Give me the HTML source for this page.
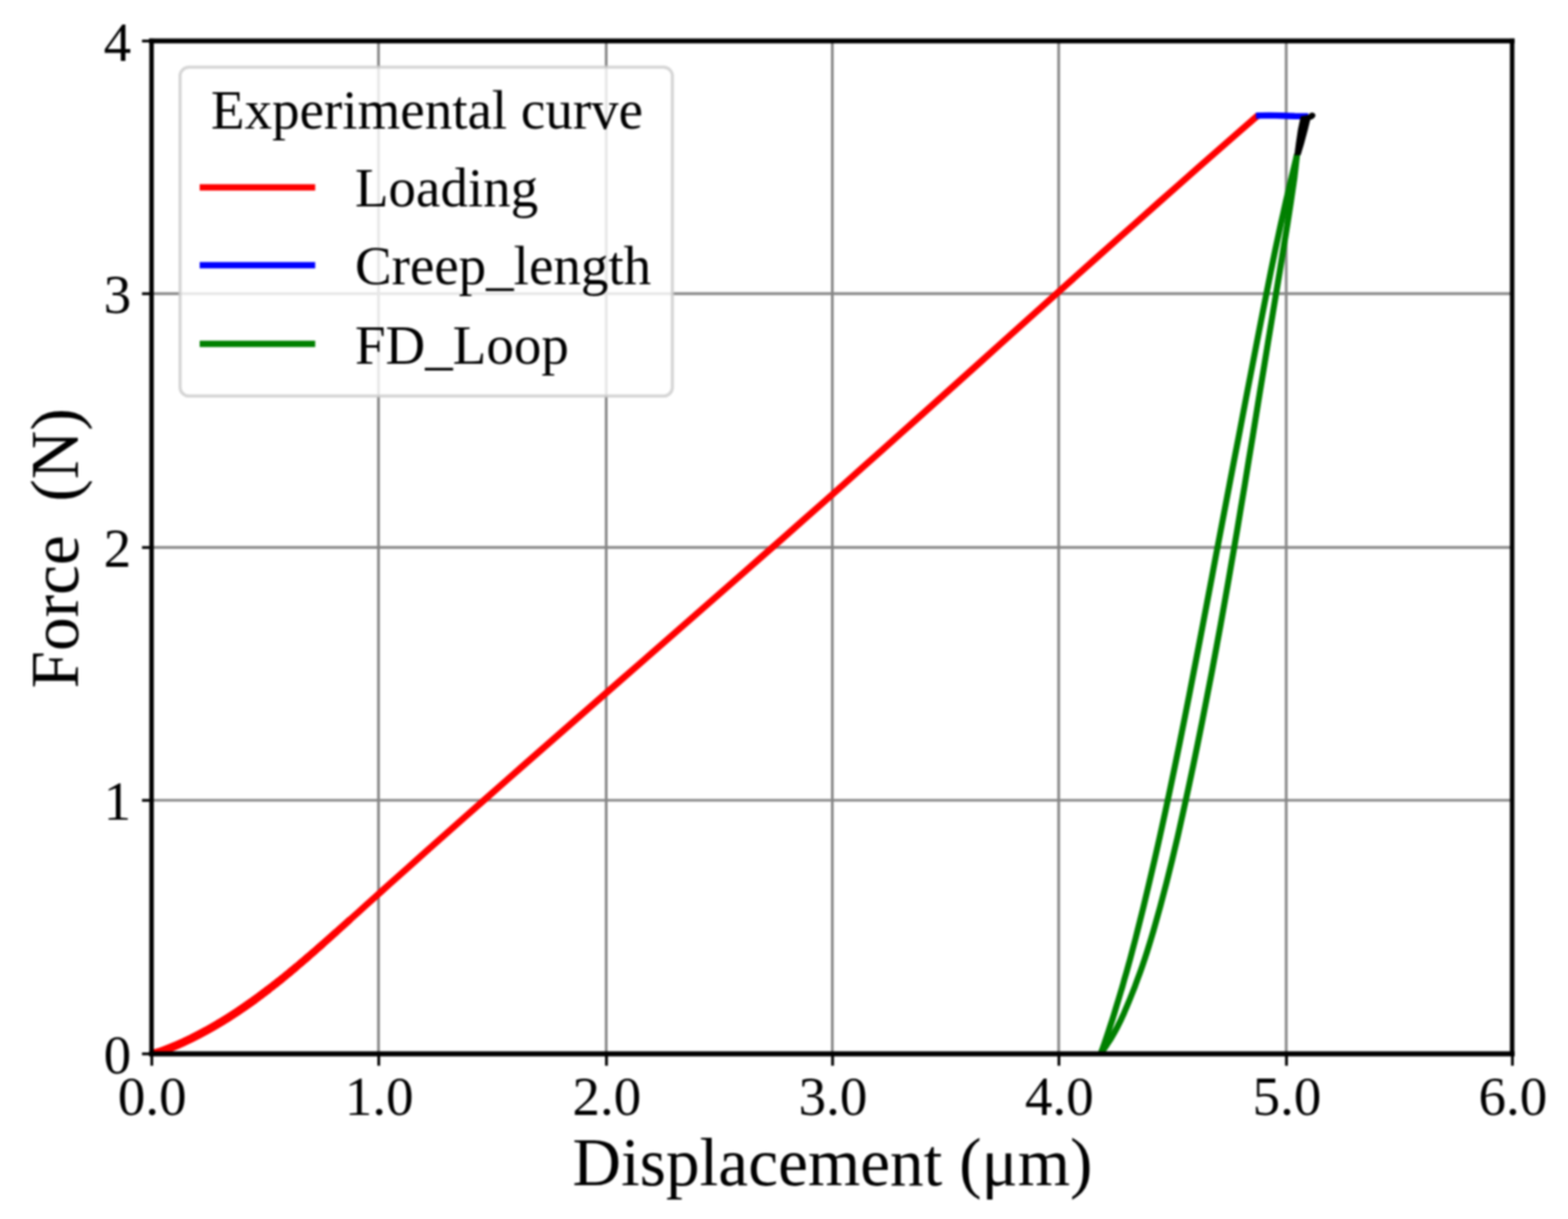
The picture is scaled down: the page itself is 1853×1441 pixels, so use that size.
<!DOCTYPE html>
<html lang="en"><head><meta charset="utf-8">
<title>Experimental curve: Force vs Displacement</title>
<style>
html,body{margin:0;padding:0;background:#fff;}
body{width:1853px;height:1441px;overflow:hidden;}
svg{display:block;}
text{font-family:"Liberation Serif",serif;fill:#000;}
.t{font-size:65px;}
.l{font-size:79.5px;}
</style></head><body>
<svg width="1853" height="1441" viewBox="0 0 1853 1441" role="img" aria-label="Force versus displacement experimental curve">
<defs><filter id="soft" x="0" y="0" width="1853" height="1441" filterUnits="userSpaceOnUse" color-interpolation-filters="sRGB"><feGaussianBlur stdDeviation="0.95"/></filter></defs>
<rect width="1853" height="1441" fill="#fff"/>
<g filter="url(#soft)">
<rect width="1853" height="1441" fill="#fff"/>
<g stroke="#868686" stroke-width="3.2" fill="none">
<line x1="447.3" y1="48.4" x2="447.3" y2="1245.7"/>
<line x1="716.4" y1="48.4" x2="716.4" y2="1245.7"/>
<line x1="983.6" y1="48.4" x2="983.6" y2="1245.7"/>
<line x1="1251.1" y1="48.4" x2="1251.1" y2="1245.7"/>
<line x1="1520.0" y1="48.4" x2="1520.0" y2="1245.7"/>
<line x1="179.1" y1="946.0" x2="1787.0" y2="946.0"/>
<line x1="179.1" y1="647.1" x2="1787.0" y2="647.1"/>
<line x1="179.1" y1="347.1" x2="1787.0" y2="347.1"/>
</g>
<clipPath id="ax"><rect x="179.1" y="48.4" width="1607.9" height="1197.3"/></clipPath>
<g clip-path="url(#ax)" fill="none" stroke-width="7.8" stroke-linejoin="round" stroke-linecap="butt">
<path stroke="#ff0000" d="M181.0,1245.6 L190.0,1243.1 L199.0,1239.6 L208.0,1235.9 L217.0,1231.9 L226.0,1227.6 L235.0,1223.0 L244.0,1218.2 L253.0,1213.1 L262.0,1207.8 L271.0,1202.2 L280.0,1196.3 L289.0,1190.2 L298.0,1183.9 L307.0,1177.3 L316.0,1170.5 L325.0,1163.5 L334.0,1156.4 L343.0,1149.0 L352.0,1141.4 L361.0,1133.8 L370.0,1126.0 L379.0,1118.1 L388.0,1110.1 L397.0,1102.1 L406.0,1094.0 L415.0,1085.9 L424.0,1077.8 L433.0,1069.7 L442.0,1061.6 L451.0,1053.5 L460.0,1045.4 L480.0,1027.6 L503.4,1006.7 L526.8,985.9 L550.2,965.2 L573.6,944.5 L597.0,923.9 L620.4,903.3 L643.8,882.8 L667.2,862.3 L690.6,841.8 L714.0,821.3 L737.4,800.8 L760.8,780.4 L784.2,759.9 L807.6,739.4 L831.0,718.9 L854.4,698.4 L877.8,677.9 L901.2,657.3 L924.6,636.7 L948.0,616.0 L971.4,595.3 L994.8,574.6 L1018.2,553.7 L1041.6,532.8 L1065.0,511.9 L1088.4,491.0 L1111.8,470.0 L1135.2,449.0 L1158.6,428.0 L1182.0,406.9 L1205.4,385.9 L1228.8,364.9 L1252.2,343.9 L1275.6,322.9 L1299.0,302.0 L1322.4,281.1 L1345.8,260.3 L1369.2,239.5 L1392.6,218.8 L1416.0,198.1 L1439.4,177.6 L1462.8,157.1 L1486.2,136.7"/>
<path stroke="#ff0000" stroke-width="7.99" d="M181.0,1245.6 L190.0,1243.1 L199.0,1239.6 L208.0,1235.9 L217.0,1231.9 L226.0,1227.6 L235.0,1223.0 L244.0,1218.2 L253.0,1213.1 L262.0,1207.8 L271.0,1202.2 L280.0,1196.3 L289.0,1190.2 L298.0,1183.9 L307.0,1177.3 L316.0,1170.5 L325.0,1163.5 L334.0,1156.4 L343.0,1149.0 L352.0,1141.4 L361.0,1133.8 L370.0,1126.0 L379.0,1118.1 L388.0,1110.1 L397.0,1102.1 L406.0,1094.0 L414.0,1086.8"/>
<path stroke="#ff0000" stroke-width="8.18" d="M181.0,1245.6 L190.0,1243.1 L199.0,1239.6 L208.0,1235.9 L217.0,1231.9 L226.0,1227.6 L235.0,1223.0 L244.0,1218.2 L253.0,1213.1 L262.0,1207.8 L271.0,1202.2 L280.0,1196.3 L289.0,1190.2 L298.0,1183.9 L307.0,1177.3 L316.0,1170.5 L325.0,1163.5 L334.0,1156.4 L343.0,1149.0 L352.0,1141.4 L361.0,1133.8 L370.0,1126.0 L379.0,1118.1 L388.0,1110.1 L397.0,1102.1 L398.0,1101.2"/>
<path stroke="#ff0000" stroke-width="8.37" d="M181.0,1245.6 L190.0,1243.1 L199.0,1239.6 L208.0,1235.9 L217.0,1231.9 L226.0,1227.6 L235.0,1223.0 L244.0,1218.2 L253.0,1213.1 L262.0,1207.8 L271.0,1202.2 L280.0,1196.3 L289.0,1190.2 L298.0,1183.9 L307.0,1177.3 L316.0,1170.5 L325.0,1163.5 L334.0,1156.4 L343.0,1149.0 L352.0,1141.4 L361.0,1133.8 L370.0,1126.0 L379.0,1118.1 L382.0,1115.4"/>
<path stroke="#ff0000" stroke-width="8.56" d="M181.0,1245.6 L190.0,1243.1 L199.0,1239.6 L208.0,1235.9 L217.0,1231.9 L226.0,1227.6 L235.0,1223.0 L244.0,1218.2 L253.0,1213.1 L262.0,1207.8 L271.0,1202.2 L280.0,1196.3 L289.0,1190.2 L298.0,1183.9 L307.0,1177.3 L316.0,1170.5 L325.0,1163.5 L334.0,1156.4 L343.0,1149.0 L352.0,1141.4 L361.0,1133.8 L366.0,1129.4"/>
<path stroke="#ff0000" stroke-width="8.75" d="M181.0,1245.6 L190.0,1243.1 L199.0,1239.6 L208.0,1235.9 L217.0,1231.9 L226.0,1227.6 L235.0,1223.0 L244.0,1218.2 L253.0,1213.1 L262.0,1207.8 L271.0,1202.2 L280.0,1196.3 L289.0,1190.2 L298.0,1183.9 L307.0,1177.3 L316.0,1170.5 L325.0,1163.5 L334.0,1156.4 L343.0,1149.0 L350.0,1143.1"/>
<path stroke="#ff0000" stroke-width="8.94" d="M181.0,1245.6 L190.0,1243.1 L199.0,1239.6 L208.0,1235.9 L217.0,1231.9 L226.0,1227.6 L235.0,1223.0 L244.0,1218.2 L253.0,1213.1 L262.0,1207.8 L271.0,1202.2 L280.0,1196.3 L289.0,1190.2 L298.0,1183.9 L307.0,1177.3 L316.0,1170.5 L325.0,1163.5 L334.0,1156.4 L334.0,1156.4"/>
<path stroke="#ff0000" stroke-width="9.13" d="M181.0,1245.6 L190.0,1243.1 L199.0,1239.6 L208.0,1235.9 L217.0,1231.9 L226.0,1227.6 L235.0,1223.0 L244.0,1218.2 L253.0,1213.1 L262.0,1207.8 L271.0,1202.2 L280.0,1196.3 L289.0,1190.2 L298.0,1183.9 L307.0,1177.3 L316.0,1170.5 L318.0,1169.0"/>
<path stroke="#ff0000" stroke-width="9.32" d="M181.0,1245.6 L190.0,1243.1 L199.0,1239.6 L208.0,1235.9 L217.0,1231.9 L226.0,1227.6 L235.0,1223.0 L244.0,1218.2 L253.0,1213.1 L262.0,1207.8 L271.0,1202.2 L280.0,1196.3 L289.0,1190.2 L298.0,1183.9 L302.0,1181.0"/>
<path stroke="#0000ff" stroke-width="7.4" d="M1484.2,136.7 L1500.0,136.4 L1515.0,136.8 L1530.0,137.3 L1546.0,137.4"/>
<path stroke="#008000" stroke-width="7.2" d="M1532.8,182.5 L1526.1,210.8 L1519.5,238.6 L1513.3,266.4 L1507.3,294.2 L1501.6,321.9 L1496.1,349.7 L1490.6,377.5 L1485.2,405.3 L1479.8,433.1 L1474.4,460.9 L1469.1,488.7 L1463.8,516.5 L1458.4,544.2 L1453.1,572.0 L1447.8,599.8 L1442.5,627.6 L1437.2,655.4 L1432.0,683.2 L1426.7,711.0 L1421.4,738.8 L1416.1,766.5 L1410.7,794.3 L1405.3,822.1 L1399.8,849.9 L1394.2,877.7 L1388.5,905.5 L1382.7,933.3 L1376.8,961.1 L1370.7,988.8 L1364.4,1016.6 L1357.9,1044.4 L1351.3,1072.2 L1344.3,1100.0 L1341.8,1110.0 L1339.7,1117.9 L1337.6,1125.9 L1335.5,1133.8 L1333.3,1141.8 L1331.1,1149.7 L1328.8,1157.6 L1326.6,1165.6 L1324.2,1173.5 L1321.8,1181.5 L1319.4,1189.4 L1317.0,1197.4 L1314.5,1205.3 L1311.9,1213.2 L1309.3,1221.2 L1306.6,1229.1 L1303.9,1237.1 L1301.0,1245.0"/>
<path stroke="#008000" stroke-width="7.2" d="M1532.8,182.5 L1529.6,210.8 L1525.5,238.6 L1521.2,266.4 L1516.7,294.2 L1512.2,321.9 L1507.6,349.7 L1503.0,377.5 L1498.4,405.3 L1493.9,433.1 L1489.3,460.9 L1484.8,488.7 L1480.3,516.5 L1475.7,544.2 L1471.2,572.0 L1466.5,599.8 L1461.9,627.6 L1457.1,655.4 L1452.3,683.2 L1447.4,711.0 L1442.4,738.8 L1437.3,766.5 L1432.1,794.3 L1426.7,822.1 L1421.3,849.9 L1415.7,877.7 L1410.0,905.5 L1404.1,933.3 L1398.0,961.1 L1391.8,988.8 L1385.2,1016.6 L1378.3,1044.4 L1371.0,1072.2 L1363.2,1100.0 L1360.2,1110.0 L1357.8,1117.9 L1355.3,1125.9 L1352.7,1133.8 L1350.0,1141.8 L1347.2,1149.7 L1344.3,1157.6 L1341.4,1165.6 L1338.3,1173.5 L1335.1,1181.5 L1331.8,1189.4 L1328.4,1197.4 L1324.8,1205.3 L1320.9,1213.2 L1316.6,1221.2 L1312.0,1229.1 L1306.7,1237.1 L1301.0,1245.0"/>
</g>
<path fill="#000" d="M1529.6,183.6 L1531.4,169.4 L1533.8,153.3 L1536.4,141 L1537,137.4 L1546,135.9 Q1548,133.3 1550.6,133.1 Q1554.8,133.8 1554.5,137 Q1553.6,140.3 1548.4,141.7 L1545.6,153.3 L1541.1,169.9 L1537,183.6 Z"/>
<g stroke="#000" fill="none" stroke-linecap="square">
<line x1="179.1" y1="48.4" x2="1787.0" y2="48.4" stroke-width="5.9"/>
<line x1="179.1" y1="1245.7" x2="1787.0" y2="1245.7" stroke-width="5.9"/>
<line x1="179.1" y1="48.4" x2="179.1" y2="1245.7" stroke-width="5.3"/>
<line x1="1787.0" y1="48.4" x2="1787.0" y2="1245.7" stroke-width="5.3"/>
</g>
<g stroke="#000" stroke-width="3.3">
<line x1="179.4" y1="1245.7" x2="179.4" y2="1259.8"/>
<line x1="447.6" y1="1245.7" x2="447.6" y2="1259.8"/>
<line x1="716.7" y1="1245.7" x2="716.7" y2="1259.8"/>
<line x1="983.9" y1="1245.7" x2="983.9" y2="1259.8"/>
<line x1="1251.4" y1="1245.7" x2="1251.4" y2="1259.8"/>
<line x1="1520.3" y1="1245.7" x2="1520.3" y2="1259.8"/>
<line x1="1787.3" y1="1245.7" x2="1787.3" y2="1259.8"/>
<line x1="167.8" y1="1245.8" x2="179.1" y2="1245.8"/>
<line x1="167.8" y1="946.1" x2="179.1" y2="946.1"/>
<line x1="167.8" y1="647.2" x2="179.1" y2="647.2"/>
<line x1="167.8" y1="347.2" x2="179.1" y2="347.2"/>
<line x1="167.8" y1="48.5" x2="179.1" y2="48.5"/>
</g>
<g class="t" text-anchor="middle">
<text x="179.9" y="1317.8">0.0</text>
<text x="448.1" y="1317.8">1.0</text>
<text x="717.2" y="1317.8">2.0</text>
<text x="984.4" y="1317.8">3.0</text>
<text x="1251.9" y="1317.8">4.0</text>
<text x="1520.8" y="1317.8">5.0</text>
<text x="1787.8" y="1317.8">6.0</text>
</g>
<g class="t" text-anchor="end">
<text x="155.0" y="1268.8">0</text>
<text x="155.0" y="969.1">1</text>
<text x="155.0" y="670.2">2</text>
<text x="155.0" y="370.2">3</text>
<text x="155.0" y="71.5">4</text>
</g>
<text class="l" text-anchor="middle" x="983.8" y="1400.8">Displacement (μm)</text>
<text class="l" text-anchor="middle" xml:space="preserve" style="white-space:pre" transform="translate(91.8,648.2) rotate(-90)">Force  (N)</text>
<rect x="212.8" y="79.4" width="581.8" height="388.8" rx="10.5" ry="10.5" fill="#fff" fill-opacity="0.8" stroke="#cccccc" stroke-opacity="0.8" stroke-width="3.8"/>
<text class="t" text-anchor="middle" x="504.6" y="151.7">Experimental curve</text>
<line x1="236" y1="221.4" x2="372.5" y2="221.4" stroke="#ff0000" stroke-width="7.5"/>
<text class="t" x="419.4" y="244.3">Loading</text>
<line x1="236" y1="313.6" x2="372.5" y2="313.6" stroke="#0000ff" stroke-width="7.5"/>
<text class="t" x="419.4" y="336.4">Creep_length</text>
<line x1="236" y1="406.4" x2="372.5" y2="406.4" stroke="#008000" stroke-width="7.5"/>
<text class="t" x="419.4" y="430.0">FD_Loop</text>
</g>
</svg>
</body></html>
